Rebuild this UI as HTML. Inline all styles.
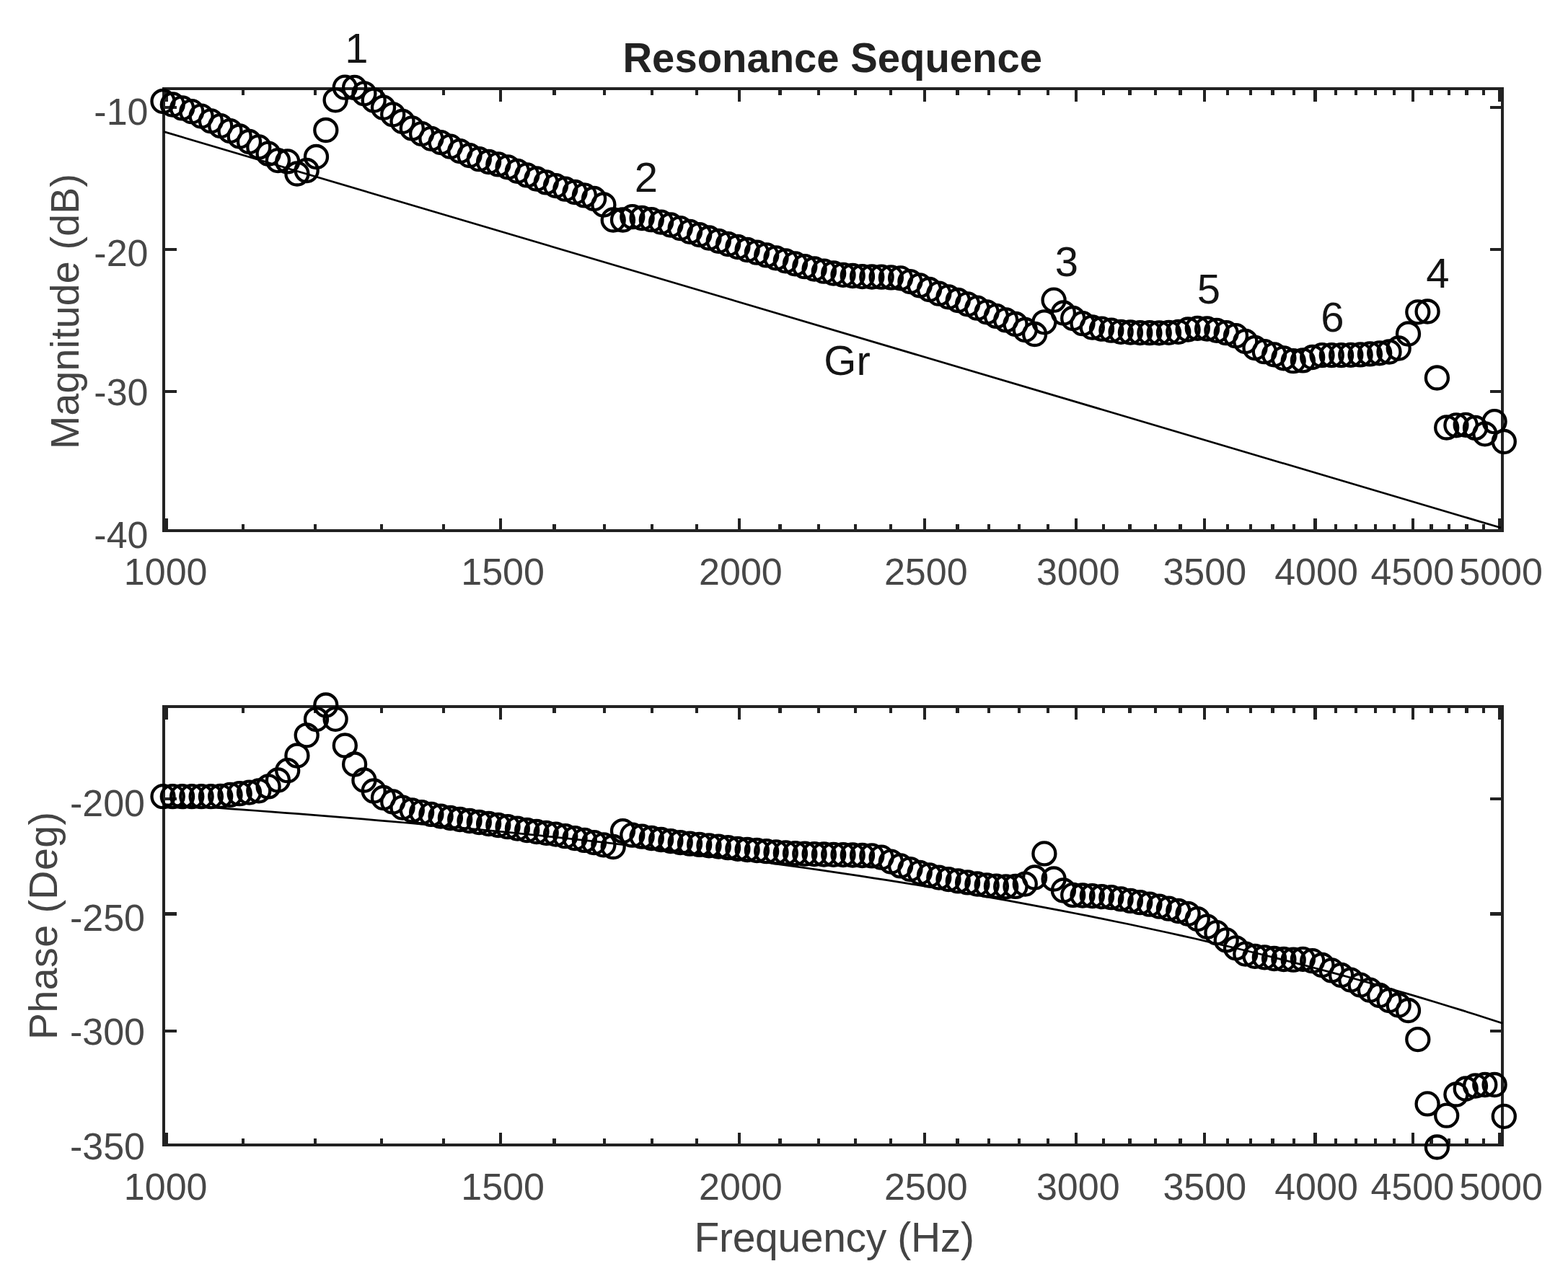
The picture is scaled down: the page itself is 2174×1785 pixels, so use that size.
<!DOCTYPE html>
<html lang="en"><head><meta charset="utf-8"><title>Resonance Sequence</title>
<style>
html,body{margin:0;padding:0;background:#fff;}
body{width:2174px;height:1785px;overflow:hidden;}
svg{display:block;}
text{font-family:"Liberation Sans",Arial,Helvetica,sans-serif;}
.tk{font-size:52px;fill:#474747;}
.lab{font-size:55.5px;fill:#444444;}
.ann{font-size:58px;fill:#141414;}
.ttl{font-size:56.5px;font-weight:bold;fill:#222222;}
.ax{stroke:#222222;stroke-width:4.20;fill:none;shape-rendering:crispEdges;}
.mk circle{fill:none;stroke:#000;stroke-width:4.30;stroke-opacity:1.00;}
.ln{fill:none;stroke:#000;stroke-width:2.7;}
</style></head><body>
<svg xmlns="http://www.w3.org/2000/svg" width="2174" height="1785" viewBox="0 0 2174 1785">
<rect x="0" y="0" width="2174" height="1785" fill="#ffffff"/>
<g>
<g class="ax">
<rect x="227.20" y="123.10" width="1856.10" height="613.00"/>
<path d="M231.37 736.10v-17.60M231.37 123.10v17.60M694.10 736.10v-17.60M694.10 123.10v17.60M1025.37 736.10v-17.60M1025.37 123.10v17.60M1282.33 736.10v-17.60M1282.33 123.10v17.60M1492.27 736.10v-17.60M1492.27 123.10v17.60M1669.78 736.10v-17.60M1669.78 123.10v17.60M1823.55 736.10v-17.60M1823.55 123.10v17.60M1959.18 736.10v-17.60M1959.18 123.10v17.60M2079.13 736.10v-17.60M2079.13 123.10v17.60M336.95 736.10v-8.90M336.95 123.10v8.90M437.15 736.10v-8.90M437.15 123.10v8.90M529.32 736.10v-8.90M529.32 123.10v8.90M614.65 736.10v-8.90M614.65 123.10v8.90M768.42 736.10v-8.90M768.42 123.10v8.90M838.23 736.10v-8.90M838.23 123.10v8.90M904.05 736.10v-8.90M904.05 123.10v8.90M966.31 736.10v-8.90M966.31 123.10v8.90M1081.56 736.10v-8.90M1081.56 123.10v8.90M1135.12 736.10v-8.90M1135.12 123.10v8.90M1186.31 736.10v-8.90M1186.31 123.10v8.90M1235.32 736.10v-8.90M1235.32 123.10v8.90M1327.49 736.10v-8.90M1327.49 123.10v8.90M1370.95 736.10v-8.90M1370.95 123.10v8.90M1412.83 736.10v-8.90M1412.83 123.10v8.90M1453.24 736.10v-8.90M1453.24 123.10v8.90M1530.03 736.10v-8.90M1530.03 123.10v8.90M1566.59 736.10v-8.90M1566.59 123.10v8.90M1602.03 736.10v-8.90M1602.03 123.10v8.90M1636.40 736.10v-8.90M1636.40 123.10v8.90M1702.22 736.10v-8.90M1702.22 123.10v8.90M1733.77 736.10v-8.90M1733.77 123.10v8.90M1764.48 736.10v-8.90M1764.48 123.10v8.90M1794.39 736.10v-8.90M1794.39 123.10v8.90M1851.98 736.10v-8.90M1851.98 123.10v8.90M1879.73 736.10v-8.90M1879.73 123.10v8.90M1906.82 736.10v-8.90M1906.82 123.10v8.90M1933.30 736.10v-8.90M1933.30 123.10v8.90M1984.48 736.10v-8.90M1984.48 123.10v8.90M2009.25 736.10v-8.90M2009.25 123.10v8.90M2033.49 736.10v-8.90M2033.49 123.10v8.90M2057.24 736.10v-8.90M2057.24 123.10v8.90M227.20 149.00h17.60M2083.30 149.00h-17.60M227.20 346.00h17.60M2083.30 346.00h-17.60M227.20 542.90h17.60M2083.30 542.90h-17.60"/>
</g>
<g class="tk" text-anchor="end">
<text x="205.5" y="172.6">-10</text>
<text x="205.5" y="369.1">-20</text>
<text x="205.5" y="562.1">-30</text>
<text x="205.5" y="759.5">-40</text>
</g>
<g class="tk" text-anchor="middle">
<text x="229.7" y="811.4">1000</text>
<text x="697.1" y="811.4">1500</text>
<text x="1026.9" y="811.4">2000</text>
<text x="1283.8" y="811.4">2500</text>
<text x="1494.8" y="811.4">3000</text>
<text x="1670.3" y="811.4">3500</text>
<text x="1825.0" y="811.4">4000</text>
<text x="1958.3" y="811.4">4500</text>
<text x="2081.0" y="811.4">5000</text>
</g>
<path class="ln" d="M227.2 182.6L2081.0 732.0"/>
<g class="mk">
<circle cx="226.0" cy="140.5" r="15.5"/>
<circle cx="239.3" cy="145.0" r="15.5"/>
<circle cx="252.6" cy="149.9" r="15.5"/>
<circle cx="265.8" cy="154.7" r="15.5"/>
<circle cx="279.1" cy="161.1" r="15.5"/>
<circle cx="292.4" cy="167.8" r="15.5"/>
<circle cx="305.7" cy="174.6" r="15.5"/>
<circle cx="319.0" cy="181.6" r="15.5"/>
<circle cx="332.2" cy="189.0" r="15.5"/>
<circle cx="345.5" cy="196.5" r="15.5"/>
<circle cx="358.8" cy="203.9" r="15.5"/>
<circle cx="372.1" cy="213.2" r="15.5"/>
<circle cx="385.4" cy="222.6" r="15.5"/>
<circle cx="398.7" cy="223.9" r="15.5"/>
<circle cx="411.9" cy="241.0" r="15.5"/>
<circle cx="425.2" cy="236.5" r="15.5"/>
<circle cx="438.5" cy="217.5" r="15.5"/>
<circle cx="451.8" cy="180.5" r="15.5"/>
<circle cx="465.1" cy="138.8" r="15.5"/>
<circle cx="478.3" cy="121.2" r="15.5"/>
<circle cx="491.6" cy="121.4" r="15.5"/>
<circle cx="504.9" cy="129.8" r="15.5"/>
<circle cx="518.2" cy="139.0" r="15.5"/>
<circle cx="531.5" cy="149.2" r="15.5"/>
<circle cx="544.7" cy="158.8" r="15.5"/>
<circle cx="558.0" cy="168.5" r="15.5"/>
<circle cx="571.3" cy="177.9" r="15.5"/>
<circle cx="584.6" cy="185.6" r="15.5"/>
<circle cx="597.9" cy="192.3" r="15.5"/>
<circle cx="611.1" cy="197.6" r="15.5"/>
<circle cx="624.4" cy="203.2" r="15.5"/>
<circle cx="637.7" cy="209.6" r="15.5"/>
<circle cx="651.0" cy="215.6" r="15.5"/>
<circle cx="664.3" cy="220.7" r="15.5"/>
<circle cx="677.6" cy="224.5" r="15.5"/>
<circle cx="690.8" cy="227.9" r="15.5"/>
<circle cx="704.1" cy="231.8" r="15.5"/>
<circle cx="717.4" cy="237.3" r="15.5"/>
<circle cx="730.7" cy="242.9" r="15.5"/>
<circle cx="744.0" cy="248.0" r="15.5"/>
<circle cx="757.2" cy="252.9" r="15.5"/>
<circle cx="770.5" cy="257.6" r="15.5"/>
<circle cx="783.8" cy="262.2" r="15.5"/>
<circle cx="797.1" cy="266.5" r="15.5"/>
<circle cx="810.4" cy="270.9" r="15.5"/>
<circle cx="823.6" cy="275.5" r="15.5"/>
<circle cx="836.9" cy="284.0" r="15.5"/>
<circle cx="850.2" cy="305.0" r="15.5"/>
<circle cx="863.5" cy="305.0" r="15.5"/>
<circle cx="876.8" cy="300.7" r="15.5"/>
<circle cx="890.1" cy="302.5" r="15.5"/>
<circle cx="903.3" cy="304.7" r="15.5"/>
<circle cx="916.6" cy="308.1" r="15.5"/>
<circle cx="929.9" cy="312.0" r="15.5"/>
<circle cx="943.2" cy="316.6" r="15.5"/>
<circle cx="956.5" cy="321.3" r="15.5"/>
<circle cx="969.7" cy="325.6" r="15.5"/>
<circle cx="983.0" cy="330.0" r="15.5"/>
<circle cx="996.3" cy="334.3" r="15.5"/>
<circle cx="1009.6" cy="338.5" r="15.5"/>
<circle cx="1022.9" cy="342.5" r="15.5"/>
<circle cx="1036.1" cy="346.5" r="15.5"/>
<circle cx="1049.4" cy="350.2" r="15.5"/>
<circle cx="1062.7" cy="353.9" r="15.5"/>
<circle cx="1076.0" cy="357.8" r="15.5"/>
<circle cx="1089.3" cy="361.8" r="15.5"/>
<circle cx="1102.5" cy="365.8" r="15.5"/>
<circle cx="1115.8" cy="369.7" r="15.5"/>
<circle cx="1129.1" cy="373.0" r="15.5"/>
<circle cx="1142.4" cy="376.2" r="15.5"/>
<circle cx="1155.7" cy="379.0" r="15.5"/>
<circle cx="1169.0" cy="381.3" r="15.5"/>
<circle cx="1182.2" cy="382.5" r="15.5"/>
<circle cx="1195.5" cy="383.6" r="15.5"/>
<circle cx="1208.8" cy="384.0" r="15.5"/>
<circle cx="1222.1" cy="384.2" r="15.5"/>
<circle cx="1235.4" cy="384.9" r="15.5"/>
<circle cx="1248.6" cy="385.8" r="15.5"/>
<circle cx="1261.9" cy="390.6" r="15.5"/>
<circle cx="1275.2" cy="395.9" r="15.5"/>
<circle cx="1288.5" cy="401.5" r="15.5"/>
<circle cx="1301.8" cy="407.2" r="15.5"/>
<circle cx="1315.0" cy="411.8" r="15.5"/>
<circle cx="1328.3" cy="416.5" r="15.5"/>
<circle cx="1341.6" cy="421.8" r="15.5"/>
<circle cx="1354.9" cy="427.2" r="15.5"/>
<circle cx="1368.2" cy="432.8" r="15.5"/>
<circle cx="1381.4" cy="438.4" r="15.5"/>
<circle cx="1394.7" cy="443.9" r="15.5"/>
<circle cx="1408.0" cy="449.5" r="15.5"/>
<circle cx="1421.3" cy="457.5" r="15.5"/>
<circle cx="1434.6" cy="463.5" r="15.5"/>
<circle cx="1447.9" cy="446.8" r="15.5"/>
<circle cx="1461.1" cy="416.2" r="15.5"/>
<circle cx="1474.4" cy="434.0" r="15.5"/>
<circle cx="1487.7" cy="441.5" r="15.5"/>
<circle cx="1501.0" cy="448.7" r="15.5"/>
<circle cx="1514.3" cy="454.0" r="15.5"/>
<circle cx="1527.5" cy="456.2" r="15.5"/>
<circle cx="1540.8" cy="458.2" r="15.5"/>
<circle cx="1554.1" cy="460.3" r="15.5"/>
<circle cx="1567.4" cy="461.0" r="15.5"/>
<circle cx="1580.7" cy="461.6" r="15.5"/>
<circle cx="1593.9" cy="461.7" r="15.5"/>
<circle cx="1607.2" cy="461.8" r="15.5"/>
<circle cx="1620.5" cy="461.3" r="15.5"/>
<circle cx="1633.8" cy="460.3" r="15.5"/>
<circle cx="1647.1" cy="457.0" r="15.5"/>
<circle cx="1660.3" cy="455.3" r="15.5"/>
<circle cx="1673.6" cy="456.0" r="15.5"/>
<circle cx="1686.9" cy="458.3" r="15.5"/>
<circle cx="1700.2" cy="461.7" r="15.5"/>
<circle cx="1713.5" cy="465.7" r="15.5"/>
<circle cx="1726.8" cy="473.5" r="15.5"/>
<circle cx="1740.0" cy="482.5" r="15.5"/>
<circle cx="1753.3" cy="487.7" r="15.5"/>
<circle cx="1766.6" cy="491.8" r="15.5"/>
<circle cx="1779.9" cy="496.8" r="15.5"/>
<circle cx="1793.2" cy="500.7" r="15.5"/>
<circle cx="1806.4" cy="499.9" r="15.5"/>
<circle cx="1819.7" cy="495.5" r="15.5"/>
<circle cx="1833.0" cy="492.7" r="15.5"/>
<circle cx="1846.3" cy="492.7" r="15.5"/>
<circle cx="1859.6" cy="492.7" r="15.5"/>
<circle cx="1872.8" cy="492.3" r="15.5"/>
<circle cx="1886.1" cy="491.9" r="15.5"/>
<circle cx="1899.4" cy="490.9" r="15.5"/>
<circle cx="1912.7" cy="489.8" r="15.5"/>
<circle cx="1926.0" cy="488.0" r="15.5"/>
<circle cx="1939.2" cy="483.0" r="15.5"/>
<circle cx="1952.5" cy="463.0" r="15.5"/>
<circle cx="1965.8" cy="432.8" r="15.5"/>
<circle cx="1979.1" cy="432.0" r="15.5"/>
<circle cx="1992.4" cy="524.0" r="15.5"/>
<circle cx="2005.7" cy="593.0" r="15.5"/>
<circle cx="2018.9" cy="589.8" r="15.5"/>
<circle cx="2032.2" cy="589.3" r="15.5"/>
<circle cx="2045.5" cy="593.4" r="15.5"/>
<circle cx="2058.8" cy="601.8" r="15.5"/>
<circle cx="2072.1" cy="584.7" r="15.5"/>
<circle cx="2085.3" cy="612.5" r="15.5"/>
</g>
<g class="ax">
<rect x="227.20" y="980.30" width="1856.10" height="607.90"/>
<path d="M231.37 1588.20v-17.60M231.37 980.30v17.60M694.10 1588.20v-17.60M694.10 980.30v17.60M1025.37 1588.20v-17.60M1025.37 980.30v17.60M1282.33 1588.20v-17.60M1282.33 980.30v17.60M1492.27 1588.20v-17.60M1492.27 980.30v17.60M1669.78 1588.20v-17.60M1669.78 980.30v17.60M1823.55 1588.20v-17.60M1823.55 980.30v17.60M1959.18 1588.20v-17.60M1959.18 980.30v17.60M2079.13 1588.20v-17.60M2079.13 980.30v17.60M336.95 1588.20v-8.90M336.95 980.30v8.90M437.15 1588.20v-8.90M437.15 980.30v8.90M529.32 1588.20v-8.90M529.32 980.30v8.90M614.65 1588.20v-8.90M614.65 980.30v8.90M768.42 1588.20v-8.90M768.42 980.30v8.90M838.23 1588.20v-8.90M838.23 980.30v8.90M904.05 1588.20v-8.90M904.05 980.30v8.90M966.31 1588.20v-8.90M966.31 980.30v8.90M1081.56 1588.20v-8.90M1081.56 980.30v8.90M1135.12 1588.20v-8.90M1135.12 980.30v8.90M1186.31 1588.20v-8.90M1186.31 980.30v8.90M1235.32 1588.20v-8.90M1235.32 980.30v8.90M1327.49 1588.20v-8.90M1327.49 980.30v8.90M1370.95 1588.20v-8.90M1370.95 980.30v8.90M1412.83 1588.20v-8.90M1412.83 980.30v8.90M1453.24 1588.20v-8.90M1453.24 980.30v8.90M1530.03 1588.20v-8.90M1530.03 980.30v8.90M1566.59 1588.20v-8.90M1566.59 980.30v8.90M1602.03 1588.20v-8.90M1602.03 980.30v8.90M1636.40 1588.20v-8.90M1636.40 980.30v8.90M1702.22 1588.20v-8.90M1702.22 980.30v8.90M1733.77 1588.20v-8.90M1733.77 980.30v8.90M1764.48 1588.20v-8.90M1764.48 980.30v8.90M1794.39 1588.20v-8.90M1794.39 980.30v8.90M1851.98 1588.20v-8.90M1851.98 980.30v8.90M1879.73 1588.20v-8.90M1879.73 980.30v8.90M1906.82 1588.20v-8.90M1906.82 980.30v8.90M1933.30 1588.20v-8.90M1933.30 980.30v8.90M1984.48 1588.20v-8.90M1984.48 980.30v8.90M2009.25 1588.20v-8.90M2009.25 980.30v8.90M2033.49 1588.20v-8.90M2033.49 980.30v8.90M2057.24 1588.20v-8.90M2057.24 980.30v8.90M227.20 1108.20h17.60M2083.30 1108.20h-17.60M227.20 1267.50h17.60M2083.30 1267.50h-17.60M227.20 1430.30h17.60M2083.30 1430.30h-17.60"/>
</g>
<g class="tk" text-anchor="end">
<text x="201.0" y="1131.8">-200</text>
<text x="201.0" y="1290.5">-250</text>
<text x="201.0" y="1449.3">-300</text>
<text x="201.0" y="1607.7">-350</text>
</g>
<g class="tk" text-anchor="middle">
<text x="229.7" y="1663.5">1000</text>
<text x="697.1" y="1663.5">1500</text>
<text x="1026.9" y="1663.5">2000</text>
<text x="1283.8" y="1663.5">2500</text>
<text x="1494.8" y="1663.5">3000</text>
<text x="1670.3" y="1663.5">3500</text>
<text x="1825.0" y="1663.5">4000</text>
<text x="1958.3" y="1663.5">4500</text>
<text x="2081.0" y="1663.5">5000</text>
</g>
<path class="ln" d="M227.2 1115.5L245.8 1116.7L264.3 1118.0L282.9 1119.2L301.4 1120.5L320.0 1121.8L338.6 1123.2L357.1 1124.5L375.7 1125.9L394.2 1127.3L412.8 1128.7L431.4 1130.2L449.9 1131.7L468.5 1133.2L487.1 1134.7L505.6 1136.2L524.2 1137.8L542.7 1139.4L561.3 1141.0L579.9 1142.6L598.4 1144.3L617.0 1146.0L635.5 1147.7L654.1 1149.5L672.7 1151.3L691.2 1153.1L709.8 1154.9L728.3 1156.8L746.9 1158.7L765.5 1160.7L784.0 1162.6L802.6 1164.6L821.2 1166.6L839.7 1168.7L858.3 1170.8L876.8 1172.9L895.4 1175.1L914.0 1177.3L932.5 1179.5L951.1 1181.8L969.6 1184.1L988.2 1186.5L1006.8 1188.9L1025.3 1191.3L1043.9 1193.7L1062.4 1196.2L1081.0 1198.8L1099.6 1201.4L1118.1 1204.0L1136.7 1206.7L1155.2 1209.4L1173.8 1212.1L1192.4 1214.9L1210.9 1217.8L1229.5 1220.7L1248.1 1223.6L1266.6 1226.6L1285.2 1229.6L1303.7 1232.7L1322.3 1235.9L1340.9 1239.0L1359.4 1242.3L1378.0 1245.6L1396.5 1248.9L1415.1 1252.3L1433.7 1255.8L1452.2 1259.3L1470.8 1262.8L1489.3 1266.5L1507.9 1270.1L1526.5 1273.9L1545.0 1277.7L1563.6 1281.5L1582.2 1285.5L1600.7 1289.5L1619.3 1293.5L1637.8 1297.6L1656.4 1301.8L1675.0 1306.1L1693.5 1310.4L1712.1 1314.8L1730.6 1319.3L1749.2 1323.8L1767.8 1328.4L1786.3 1333.1L1804.9 1337.9L1823.4 1342.7L1842.0 1347.6L1860.6 1352.6L1879.1 1357.7L1897.7 1362.9L1916.3 1368.1L1934.8 1373.5L1953.4 1378.9L1971.9 1384.4L1990.5 1390.0L2009.1 1395.7L2027.6 1401.4L2046.2 1407.3L2064.7 1413.3L2083.3 1419.3"/>
<g class="mk">
<circle cx="226.0" cy="1104.7" r="15.5"/>
<circle cx="239.3" cy="1104.7" r="15.5"/>
<circle cx="252.6" cy="1104.7" r="15.5"/>
<circle cx="265.8" cy="1104.7" r="15.5"/>
<circle cx="279.1" cy="1104.7" r="15.5"/>
<circle cx="292.4" cy="1104.7" r="15.5"/>
<circle cx="305.7" cy="1104.3" r="15.5"/>
<circle cx="319.0" cy="1102.4" r="15.5"/>
<circle cx="332.2" cy="1100.7" r="15.5"/>
<circle cx="345.5" cy="1099.1" r="15.5"/>
<circle cx="358.8" cy="1096.8" r="15.5"/>
<circle cx="372.1" cy="1090.9" r="15.5"/>
<circle cx="385.4" cy="1082.0" r="15.5"/>
<circle cx="398.7" cy="1068.7" r="15.5"/>
<circle cx="411.9" cy="1048.0" r="15.5"/>
<circle cx="425.2" cy="1019.8" r="15.5"/>
<circle cx="438.5" cy="997.6" r="15.5"/>
<circle cx="451.8" cy="978.0" r="15.5"/>
<circle cx="465.1" cy="997.3" r="15.5"/>
<circle cx="478.3" cy="1034.0" r="15.5"/>
<circle cx="491.6" cy="1060.0" r="15.5"/>
<circle cx="504.9" cy="1082.0" r="15.5"/>
<circle cx="518.2" cy="1097.0" r="15.5"/>
<circle cx="531.5" cy="1106.5" r="15.5"/>
<circle cx="544.7" cy="1112.0" r="15.5"/>
<circle cx="558.0" cy="1120.1" r="15.5"/>
<circle cx="571.3" cy="1123.8" r="15.5"/>
<circle cx="584.6" cy="1126.7" r="15.5"/>
<circle cx="597.9" cy="1129.4" r="15.5"/>
<circle cx="611.1" cy="1132.1" r="15.5"/>
<circle cx="624.4" cy="1134.5" r="15.5"/>
<circle cx="637.7" cy="1136.5" r="15.5"/>
<circle cx="651.0" cy="1138.5" r="15.5"/>
<circle cx="664.3" cy="1140.5" r="15.5"/>
<circle cx="677.6" cy="1142.5" r="15.5"/>
<circle cx="690.8" cy="1144.5" r="15.5"/>
<circle cx="704.1" cy="1146.7" r="15.5"/>
<circle cx="717.4" cy="1149.1" r="15.5"/>
<circle cx="730.7" cy="1151.5" r="15.5"/>
<circle cx="744.0" cy="1153.5" r="15.5"/>
<circle cx="757.2" cy="1155.3" r="15.5"/>
<circle cx="770.5" cy="1157.1" r="15.5"/>
<circle cx="783.8" cy="1159.7" r="15.5"/>
<circle cx="797.1" cy="1162.6" r="15.5"/>
<circle cx="810.4" cy="1165.4" r="15.5"/>
<circle cx="823.6" cy="1168.6" r="15.5"/>
<circle cx="836.9" cy="1171.8" r="15.5"/>
<circle cx="850.2" cy="1174.5" r="15.5"/>
<circle cx="863.5" cy="1152.6" r="15.5"/>
<circle cx="876.8" cy="1158.2" r="15.5"/>
<circle cx="890.1" cy="1160.2" r="15.5"/>
<circle cx="903.3" cy="1162.5" r="15.5"/>
<circle cx="916.6" cy="1164.5" r="15.5"/>
<circle cx="929.9" cy="1166.6" r="15.5"/>
<circle cx="943.2" cy="1168.6" r="15.5"/>
<circle cx="956.5" cy="1170.2" r="15.5"/>
<circle cx="969.7" cy="1171.4" r="15.5"/>
<circle cx="983.0" cy="1172.8" r="15.5"/>
<circle cx="996.3" cy="1174.1" r="15.5"/>
<circle cx="1009.6" cy="1175.7" r="15.5"/>
<circle cx="1022.9" cy="1177.3" r="15.5"/>
<circle cx="1036.1" cy="1178.5" r="15.5"/>
<circle cx="1049.4" cy="1179.5" r="15.5"/>
<circle cx="1062.7" cy="1180.7" r="15.5"/>
<circle cx="1076.0" cy="1181.9" r="15.5"/>
<circle cx="1089.3" cy="1182.9" r="15.5"/>
<circle cx="1102.5" cy="1183.7" r="15.5"/>
<circle cx="1115.8" cy="1184.2" r="15.5"/>
<circle cx="1129.1" cy="1184.6" r="15.5"/>
<circle cx="1142.4" cy="1185.0" r="15.5"/>
<circle cx="1155.7" cy="1185.3" r="15.5"/>
<circle cx="1169.0" cy="1185.6" r="15.5"/>
<circle cx="1182.2" cy="1186.0" r="15.5"/>
<circle cx="1195.5" cy="1186.5" r="15.5"/>
<circle cx="1208.8" cy="1186.9" r="15.5"/>
<circle cx="1222.1" cy="1189.2" r="15.5"/>
<circle cx="1235.4" cy="1195.1" r="15.5"/>
<circle cx="1248.6" cy="1200.9" r="15.5"/>
<circle cx="1261.9" cy="1205.6" r="15.5"/>
<circle cx="1275.2" cy="1210.3" r="15.5"/>
<circle cx="1288.5" cy="1213.9" r="15.5"/>
<circle cx="1301.8" cy="1217.1" r="15.5"/>
<circle cx="1315.0" cy="1219.6" r="15.5"/>
<circle cx="1328.3" cy="1221.9" r="15.5"/>
<circle cx="1341.6" cy="1223.9" r="15.5"/>
<circle cx="1354.9" cy="1226.0" r="15.5"/>
<circle cx="1368.2" cy="1227.8" r="15.5"/>
<circle cx="1381.4" cy="1229.1" r="15.5"/>
<circle cx="1394.7" cy="1229.8" r="15.5"/>
<circle cx="1408.0" cy="1229.4" r="15.5"/>
<circle cx="1421.3" cy="1226.1" r="15.5"/>
<circle cx="1434.6" cy="1217.0" r="15.5"/>
<circle cx="1447.9" cy="1183.9" r="15.5"/>
<circle cx="1461.1" cy="1219.0" r="15.5"/>
<circle cx="1474.4" cy="1235.0" r="15.5"/>
<circle cx="1487.7" cy="1241.4" r="15.5"/>
<circle cx="1501.0" cy="1242.0" r="15.5"/>
<circle cx="1514.3" cy="1242.6" r="15.5"/>
<circle cx="1527.5" cy="1243.6" r="15.5"/>
<circle cx="1540.8" cy="1244.7" r="15.5"/>
<circle cx="1554.1" cy="1246.9" r="15.5"/>
<circle cx="1567.4" cy="1249.4" r="15.5"/>
<circle cx="1580.7" cy="1251.7" r="15.5"/>
<circle cx="1593.9" cy="1254.2" r="15.5"/>
<circle cx="1607.2" cy="1257.1" r="15.5"/>
<circle cx="1620.5" cy="1260.2" r="15.5"/>
<circle cx="1633.8" cy="1263.5" r="15.5"/>
<circle cx="1647.1" cy="1267.3" r="15.5"/>
<circle cx="1660.3" cy="1274.6" r="15.5"/>
<circle cx="1673.6" cy="1285.2" r="15.5"/>
<circle cx="1686.9" cy="1293.7" r="15.5"/>
<circle cx="1700.2" cy="1303.9" r="15.5"/>
<circle cx="1713.5" cy="1314.8" r="15.5"/>
<circle cx="1726.8" cy="1323.1" r="15.5"/>
<circle cx="1740.0" cy="1326.3" r="15.5"/>
<circle cx="1753.3" cy="1327.8" r="15.5"/>
<circle cx="1766.6" cy="1329.5" r="15.5"/>
<circle cx="1779.9" cy="1330.5" r="15.5"/>
<circle cx="1793.2" cy="1331.2" r="15.5"/>
<circle cx="1806.4" cy="1330.3" r="15.5"/>
<circle cx="1819.7" cy="1332.7" r="15.5"/>
<circle cx="1833.0" cy="1338.5" r="15.5"/>
<circle cx="1846.3" cy="1345.9" r="15.5"/>
<circle cx="1859.6" cy="1352.5" r="15.5"/>
<circle cx="1872.8" cy="1359.1" r="15.5"/>
<circle cx="1886.1" cy="1366.1" r="15.5"/>
<circle cx="1899.4" cy="1373.2" r="15.5"/>
<circle cx="1912.7" cy="1380.5" r="15.5"/>
<circle cx="1926.0" cy="1387.6" r="15.5"/>
<circle cx="1939.2" cy="1394.0" r="15.5"/>
<circle cx="1952.5" cy="1401.5" r="15.5"/>
<circle cx="1965.8" cy="1441.6" r="15.5"/>
<circle cx="1979.1" cy="1530.9" r="15.5"/>
<circle cx="1992.4" cy="1591.0" r="15.5"/>
<circle cx="2005.7" cy="1547.2" r="15.5"/>
<circle cx="2018.9" cy="1518.0" r="15.5"/>
<circle cx="2032.2" cy="1510.0" r="15.5"/>
<circle cx="2045.5" cy="1506.0" r="15.5"/>
<circle cx="2058.8" cy="1504.5" r="15.5"/>
<circle cx="2072.1" cy="1504.5" r="15.5"/>
<circle cx="2085.3" cy="1548.3" r="15.5"/>
</g>
<text class="ttl" x="863.5" y="99.8" textLength="581.5" lengthAdjust="spacingAndGlyphs">Resonance Sequence</text>
<text class="lab" text-anchor="middle" transform="translate(108.8 432) rotate(-90)" textLength="382" lengthAdjust="spacing">Magnitude (dB)</text>
<text class="lab" text-anchor="middle" transform="translate(79 1284) rotate(-90)" textLength="316" lengthAdjust="spacing">Phase (Deg)</text>
<text class="lab" style="font-size:57px" x="962.5" y="1736.3" textLength="388.5" lengthAdjust="spacing">Frequency (Hz)</text>
<g class="ann" text-anchor="middle">
<text x="494.5" y="87.0">1</text>
<text x="896.0" y="266.4">2</text>
<text x="1479.0" y="382.5">3</text>
<text x="1676.0" y="420.5">5</text>
<text x="1847.5" y="459.7">6</text>
<text x="1993.5" y="399.4">4</text>
<text x="1174.5" y="519.5">Gr</text>
</g>
</g>
</svg>
</body></html>
